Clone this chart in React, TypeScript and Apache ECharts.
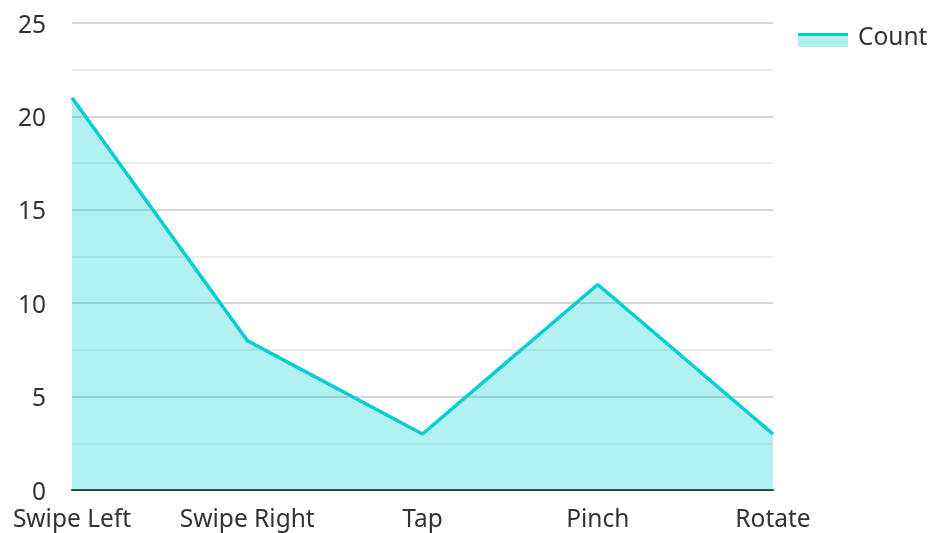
import React, { useEffect, useRef } from "react";
import * as echarts from "echarts";

const categories = ["Swipe Left", "Swipe Right", "Tap", "Pinch", "Rotate"];
const countValues = [21, 8, 3, 11, 3];
const seriesName = "Count";

const LINE = "#00CED1";
const AREA = "#B2F0EE";
const FONT = "Noto Sans";

export default function App() {
  const ref = useRef<HTMLDivElement>(null);
  useEffect(() => {
    if (!ref.current) return;
    const chart = echarts.init(ref.current, undefined, { renderer: "svg" });
    chart.setOption({
      animation: false,
      textStyle: { fontFamily: FONT },
      grid: { left: 72, right: 158, top: 23, bottom: 43, containLabel: false },
      legend: {
        left: 798,
        top: 21,
        padding: 0,
        itemWidth: 50,
        itemHeight: 29,
        icon: "rect",
        itemStyle: {
          color: {
            type: "linear",
            x: 0,
            y: 0,
            x2: 0,
            y2: 1,
            colorStops: [
              { offset: 0, color: "rgba(255,255,255,0)" },
              { offset: 0.41, color: "rgba(255,255,255,0)" },
              { offset: 0.41, color: LINE },
              { offset: 0.525, color: LINE },
              { offset: 0.525, color: AREA },
              { offset: 0.9, color: AREA },
              { offset: 0.9, color: "rgba(255,255,255,0)" },
              { offset: 1, color: "rgba(255,255,255,0)" },
            ],
          },
          borderWidth: 0,
        },
        textStyle: { fontFamily: FONT, fontSize: 24.5, color: "#333", padding: [0, 0, 0, 5] },
        data: [seriesName],
      },
      xAxis: {
        type: "category",
        data: categories,
        boundaryGap: false,
        axisLine: { show: true, lineStyle: { color: "#333", width: 2 } },
        axisTick: { show: false },
        splitLine: { show: false },
        axisLabel: {
          fontFamily: FONT,
          fontSize: 24.5,
          color: "#333",
          margin: 15,
          interval: 0,
          hideOverlap: false,
        },
      },
      yAxis: {
        type: "value",
        min: 0,
        max: 25,
        interval: 5,
        axisLine: { show: false },
        axisTick: { show: false },
        axisLabel: { fontFamily: FONT, fontSize: 24.5, color: "#333", margin: 26 },
        splitLine: { show: true, lineStyle: { color: "#c8c8c8", width: 1.5 } },
        minorTick: { show: false, splitNumber: 2 },
        minorSplitLine: { show: true, lineStyle: { color: "#e6e6e6", width: 1.5 } },
      },
      series: [
        {
          name: seriesName,
          type: "line",
          data: countValues,
          showSymbol: false,
          symbol: "none",
          lineStyle: { color: LINE, width: 3.5 },
          itemStyle: { color: LINE },
          areaStyle: { color: LINE, opacity: 0.3 },
        },
      ],
    });
    return () => chart.dispose();
  }, []);
  return (
    <div
      ref={ref}
      style={{ position: "fixed", left: 0, top: 0, width: 931, height: 533 }}
    />
  );
}
